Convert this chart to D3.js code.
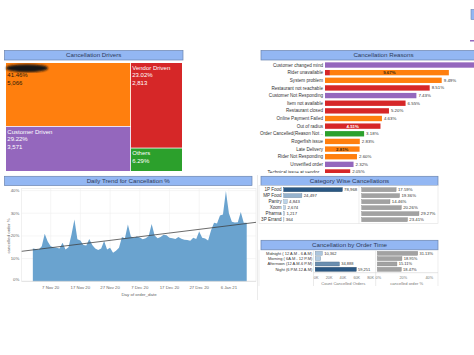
<!DOCTYPE html>
<html><head><meta charset="utf-8">
<script src="https://cdn.jsdelivr.net/npm/d3@7"></script>
<style>
html,body{margin:0;padding:0;background:#fff;}
svg{display:block;font-family:"Liberation Sans",Arial,sans-serif;}
</style></head><body>
<svg id="c" width="474" height="355"></svg>
<script>
// ---------------- DATA ----------------
const driverNames = ["", "Customer Driven", "Vendor Driven", "Others"]; // first label is redacted in the source
const driverPct = [41.46, 29.22, 23.02, 6.29];
const driverCount = [5066, 3571, 2813, null];
const driverColumn = [0, 0, 1, 1];
const driverColors = ["#ff7f0e", "#9467bd", "#d62728", "#2ca02c"];
const driverText = ["#2a1a0a", "#ffffff", "#ffffff", "#ffffff"];

const reasonNames = ["Customer changed mind","Rider unavailable","System problem","Restaurant not reachable",
  "Customer Not Responding","Item not available","Restaurant closed","Online Payment Failed","Out of radius",
  "Order Cancelled(Reason Not ..","Rogerfish issue","Late Delivery","Rider Not Responding","Unverified order",
  "Technical issue at vendor .."];
const reasonPct = [12.9, 9.67, 9.49, 8.51, 7.43, 6.55, 5.20, 4.63, 4.51, 3.18, 2.83, 2.81, 2.60, 2.32, 2.05];
const reasonDriver = [1, 0, 0, 2, 1, 2, 2, 0, 2, 3, 0, 0, 0, 1, 2];
const reasonLead = [0, 0.4, 0, 0, 0, 0, 0, 0, 0, 0, 0, 0, 0, 0, 0]; // small red lead segment
const reasonInside = [false, true, false, false, false, false, false, false, true, false, false, true, false, false, false];

const categories = ["1P Food","MP Food","Pantry","Xoom","Pharma","3P Errand"];
const catCount = [78968, 24497, 4843, 2674, 1217, 364];
const catPct = [17.59, 19.36, 14.46, 20.26, 29.27, 23.41];

const slots = ["Midnight ( 12 A.M - 6 A.M)","Morning ( 6A.M - 12 P.M)","Afternoon (12 A.M-6 P.M)","Night (6 P.M-12 A.M)"];
const slotCount = [10362, 8062, 34888, 59251];
const slotShowCount = [true, false, true, true];
const slotPct = [31.13, 18.95, 15.11, 18.47];
const countTicks = [0, 20000, 40000, 60000, 80000];
const slotPctTicks = [0, 20, 40];

const dailyStart = "2020-11-01";
const dailyPct = [14.5,14.2,14.0,15.5,21.0,17.5,15.5,15.0,14.8,14.5,17.0,14.0,15.0,20.5,27.3,18.5,18.0,16.0,15.8,18.7,
  16.0,14.5,13.8,14.5,17.8,14.0,14.8,12.6,13.5,14.8,19.5,19.0,25.0,19.8,19.2,19.8,19.3,18.5,19.0,20.0,
  25.3,20.2,19.0,19.5,20.5,20.3,19.2,19.0,18.6,19.5,18.8,18.3,18.2,17.9,19.2,18.6,22.0,19.2,18.9,18.0,
  22.5,25.8,25.5,29.0,29.5,39.8,30.0,26.3,25.9,26.0,30.5,25.8,25.8];
const dateTicks = ["2020-11-07","2020-11-17","2020-11-27","2020-12-07","2020-12-17","2020-12-27","2021-01-06"];
const yTicks = [0, 10, 20, 30, 40];

// ---------------- HELPERS ----------------
const svg = d3.select("#c");
const FONT = "'Liberation Sans',Arial,sans-serif";
function titleBar(x0, x1, y0, y1, text) {
  svg.append("rect").attr("x", x0).attr("y", y0).attr("width", x1 - x0).attr("height", y1 - y0)
    .attr("fill", "#93b7f3").attr("stroke", "#6a84b0").attr("stroke-width", 0.7);
  svg.append("text").attr("x", (x0 + x1) / 2).attr("y", (y0 + y1) / 2 + 2.1).attr("text-anchor", "middle")
    .attr("font-size", 6.2).attr("fill", "#2e3a59").text(text);
}
const defs = svg.append("defs");
defs.append("filter").attr("id", "blur").append("feGaussianBlur").attr("stdDeviation", 0.9);
defs.append("clipPath").attr("id", "rclip").append("rect").attr("x", 255).attr("y", 61).attr("width", 219).attr("height", 112);

// off-screen fragments at the top-right edge
svg.append("rect").attr("x", 471).attr("y", 9.5).attr("width", 4).attr("height", 10).attr("fill", "#93b7f3").attr("stroke", "#6a84b0").attr("stroke-width", 0.6);
svg.append("rect").attr("x", 470).attr("y", 40).attr("width", 5).attr("height", 1.5).attr("fill", "#9467bd");

// ---------------- TREEMAP ----------------
titleBar(4.5, 183, 50.5, 60, "Cancellation Drivers");
const tmData = { children: [0, 1].map(c => ({ children: driverPct.map((p, i) => ({ i, pct: p })).filter(d => driverColumn[d.i] === c) })) };
const root = d3.hierarchy(tmData).sum(d => d.pct || 0);
d3.treemap().tile(d3.treemapSliceDice).size([176, 108]).paddingInner(0.8)(root);
const tg = svg.append("g").attr("transform", "translate(6,63)");
root.leaves().forEach(l => {
  const i = l.data.i;
  tg.append("rect").attr("x", l.x0).attr("y", l.y0).attr("width", l.x1 - l.x0).attr("height", l.y1 - l.y0).attr("fill", driverColors[i]);
  const lines = [driverNames[i], driverPct[i].toFixed(2) + "%"];
  if (driverCount[i] != null) lines.push(d3.format(",")(driverCount[i]));
  lines.forEach((t, k) => {
    if (!t) return;
    tg.append("text").attr("x", l.x0 + 1.3).attr("y", l.y0 + 7 + k * 7.4).attr("font-size", 6)
      .attr("fill", driverText[i]).text(t);
  });
});
// redaction blot over the first label
tg.append("ellipse").attr("cx", 21).attr("cy", 5.2).attr("rx", 21).ry = null;
tg.select("ellipse").attr("ry", 4).attr("fill", "#141414").attr("filter", "url(#blur)");

// ---------------- REASONS ----------------
titleBar(261, 506, 50.5, 60, "Cancellation Reasons");
const rg = svg.append("g").attr("clip-path", "url(#rclip)");
const ry = d3.scaleBand().domain(reasonNames).range([61.2, 61.2 + 7.64 * reasonNames.length]).paddingInner(0.3).paddingOuter(0.15);
const rx = d3.scaleLinear().domain([0, 10]).range([325, 448]);
reasonNames.forEach((n, i) => {
  const y = ry(n), h = ry.bandwidth(), cy = y + h / 2;
  rg.append("text").attr("x", 323).attr("y", cy + 1.6).attr("text-anchor", "end").attr("font-size", 4.6).attr("fill", "#333").text(n);
  if (reasonLead[i] > 0) rg.append("rect").attr("x", rx(0)).attr("y", y).attr("width", rx(reasonLead[i]) - rx(0)).attr("height", h).attr("fill", driverColors[2]);
  const xs = rx(reasonLead[i]), xe = rx(reasonLead[i] + reasonPct[i]);
  rg.append("rect").attr("x", xs).attr("y", y).attr("width", xe - xs).attr("height", h).attr("fill", driverColors[reasonDriver[i]]);
  const lab = reasonPct[i].toFixed(2) + "%";
  if (reasonInside[i]) {
    rg.append("text").attr("x", (xs + xe) / 2).attr("y", cy + 1.5).attr("text-anchor", "middle").attr("font-size", 4.4)
      .attr("font-weight", "bold").attr("fill", reasonDriver[i] === 2 ? "#fff" : "#3a2a10").text(lab);
  } else if (i > 0) {
    rg.append("text").attr("x", xe + 2).attr("y", cy + 1.5).attr("font-size", 4.4).attr("fill", "#333").text(lab);
  }
});

// ---------------- DAILY TREND ----------------
titleBar(4.5, 252, 176.3, 185.5, "Daily Trend for Cancellation %");
const parse = d3.timeParse("%Y-%m-%d");
const t0 = parse(dailyStart);
const daily = dailyPct.map((v, i) => ({ date: d3.timeDay.offset(t0, i), v }));
const tx = d3.scaleTime().domain([new Date(2020, 9, 28, 6), new Date(2021, 0, 15, 3)]).range([21.7, 256]);
const ty = d3.scaleLinear().domain([0, 41]).range([281.3, 188.3]);
const pg = svg.append("g");
// frame & grid
pg.append("rect").attr("x", 21.7).attr("y", 188.3).attr("width", 256 - 21.7).attr("height", 281.3 - 188.3)
  .attr("fill", "none").attr("stroke", "#e6e6e6").attr("stroke-width", 0.6);
yTicks.forEach(t => pg.append("line").attr("x1", 21.7).attr("x2", 256).attr("y1", ty(t)).attr("y2", ty(t)).attr("stroke", "#efefef").attr("stroke-width", 0.6));
dateTicks.map(parse).forEach(d => pg.append("line").attr("x1", tx(d)).attr("x2", tx(d)).attr("y1", 188.3).attr("y2", 281.3).attr("stroke", "#f0f0f0").attr("stroke-width", 0.6));
// area
const area = d3.area().x(d => tx(d.date)).y0(ty(0)).y1(d => ty(d.v));
pg.append("path").datum(daily).attr("d", area).attr("fill", "#6aa3cf");
// trend line (least squares)
const n = daily.length, xsArr = daily.map(d => +d.date), mx = d3.mean(xsArr), my = d3.mean(dailyPct);
const slope = d3.sum(daily, d => (+d.date - mx) * (d.v - my)) / d3.sum(daily, d => (+d.date - mx) ** 2);
const icpt = my - slope * mx;
const dom = tx.domain();
pg.append("line").attr("x1", tx(dom[0])).attr("x2", tx(dom[1]))
  .attr("y1", ty(icpt + slope * +dom[0])).attr("y2", ty(icpt + slope * +dom[1]))
  .attr("stroke", "#3d3d3d").attr("stroke-opacity", 0.85).attr("stroke-width", 0.9);
pg.append("line").attr("x1", 21.7).attr("x2", 256).attr("y1", ty(0)).attr("y2", ty(0)).attr("stroke", "#d8d8d8").attr("stroke-width", 0.6);
// axes
yTicks.forEach(t => pg.append("text").attr("x", 19.3).attr("y", ty(t) + (t === 0 ? -0.5 : 1.5)).attr("text-anchor", "end")
  .attr("font-size", 4.3).attr("fill", "#666").text(t + "%"));
const fmt = d3.timeFormat("%-d %b %y");
dateTicks.map(parse).forEach(d => pg.append("text").attr("x", tx(d)).attr("y", 288.5).attr("text-anchor", "middle")
  .attr("font-size", 4.3).attr("fill", "#666").text(fmt(d)));
pg.append("text").attr("x", 139).attr("y", 295.5).attr("text-anchor", "middle").attr("font-size", 4.4).attr("fill", "#666").text("Day of order_date");
pg.append("text").attr("transform", "translate(9.5,236) rotate(-90)").attr("text-anchor", "middle").attr("font-size", 4.4).attr("fill", "#666").text("cancelled order %");
svg.append("line").attr("x1", 257.5).attr("x2", 257.5).attr("y1", 175).attr("y2", 300).attr("stroke", "#e2e2e2").attr("stroke-width", 0.7);

// ---------------- CATEGORY WISE ----------------
titleBar(261, 438, 176.3, 185.5, "Category Wise Cancellations");
const cg = svg.append("g");
cg.append("rect").attr("x", 259).attr("y", 185.5).attr("width", 179).attr("height", 38).attr("fill", "none").attr("stroke", "#e2e2e2").attr("stroke-width", 0.6);
cg.append("line").attr("x1", 359).attr("x2", 359).attr("y1", 186).attr("y2", 223.5).attr("stroke", "#e2e2e2").attr("stroke-width", 0.6);
const cy = d3.scaleBand().domain(categories).range([186.7, 186.7 + 6 * categories.length]).paddingInner(0.33).paddingOuter(0.165);
const cx = d3.scaleLinear().domain([0, 85000]).range([283.7, 346.8]);
const cpx = d3.scaleLinear().domain([0, 30]).range([361.7, 420.4]);
const ccol = d3.scaleLinear().domain([0, d3.max(catCount)]).range(["#c6dcf0", "#2a5783"]);
categories.forEach((c, i) => {
  const y = cy(c), h = cy.bandwidth(), m = y + h / 2;
  cg.append("text").attr("x", 281.7).attr("y", m + 1.6).attr("text-anchor", "end").attr("font-size", 4.6).attr("fill", "#333").text(c);
  cg.append("rect").attr("x", cx(0)).attr("y", y).attr("width", cx(catCount[i]) - cx(0)).attr("height", h)
    .attr("fill", ccol(catCount[i])).attr("stroke", d3.color(ccol(catCount[i])).darker(0.8)).attr("stroke-width", 0.4);
  cg.append("text").attr("x", cx(catCount[i]) + 1.8).attr("y", m + 1.5).attr("font-size", 4.3).attr("fill", "#333").text(d3.format(",")(catCount[i]));
  cg.append("rect").attr("x", cpx(0)).attr("y", y).attr("width", cpx(catPct[i]) - cpx(0)).attr("height", h)
    .attr("fill", "#a2a2a2").attr("stroke", "#8a8a8a").attr("stroke-width", 0.4);
  cg.append("text").attr("x", cpx(catPct[i]) + 1.8).attr("y", m + 1.5).attr("font-size", 4.3).attr("fill", "#333").text(catPct[i].toFixed(2) + "%");
});

// ---------------- ORDER TIME ----------------
titleBar(261, 438, 240.3, 249.8, "Cancellation by Order Time");
const og = svg.append("g");
og.append("line").attr("x1", 259).attr("x2", 259).attr("y1", 249.8).attr("y2", 286).attr("stroke", "#e2e2e2").attr("stroke-width", 0.6);
og.append("line").attr("x1", 438).attr("x2", 438).attr("y1", 249.8).attr("y2", 286).attr("stroke", "#e2e2e2").attr("stroke-width", 0.6);
og.append("line").attr("x1", 313.5).attr("x2", 313.5).attr("y1", 250.5).attr("y2", 286).attr("stroke", "#dcdcdc").attr("stroke-width", 0.6);
og.append("line").attr("x1", 375.7).attr("x2", 375.7).attr("y1", 250.5).attr("y2", 286).attr("stroke", "#dcdcdc").attr("stroke-width", 0.6);
og.append("line").attr("x1", 313.5).attr("x2", 438).attr("y1", 272.7).attr("y2", 272.7).attr("stroke", "#d4d4d4").attr("stroke-width", 0.6);
const oy = d3.scaleBand().domain(slots).range([250.65, 250.65 + 5.33 * slots.length]).paddingInner(0.25).paddingOuter(0.125);
const ox = d3.scaleLinear().domain([0, 86000]).range([315.2, 374.8]);
const opx = d3.scaleLinear().domain([0, 47]).range([377.3, 438.4]);
const ocol = d3.scaleLinear().domain([0, d3.max(slotCount)]).range(["#c6dcf0", "#2a5783"]);
slots.forEach((s, i) => {
  const y = oy(s), h = oy.bandwidth(), m = y + h / 2;
  og.append("text").attr("x", 312.3).attr("y", m + 1.4).attr("text-anchor", "end").attr("font-size", 4.0).attr("fill", "#333").text(s);
  og.append("rect").attr("x", ox(0)).attr("y", y).attr("width", ox(slotCount[i]) - ox(0)).attr("height", h)
    .attr("fill", ocol(slotCount[i])).attr("stroke", d3.color(ocol(slotCount[i])).darker(0.8)).attr("stroke-width", 0.4);
  if (slotShowCount[i]) og.append("text").attr("x", ox(slotCount[i]) + 1.8).attr("y", m + 1.4).attr("font-size", 4.0).attr("fill", "#333").text(d3.format(",")(slotCount[i]));
  og.append("rect").attr("x", opx(0)).attr("y", y).attr("width", opx(slotPct[i]) - opx(0)).attr("height", h)
    .attr("fill", "#a2a2a2").attr("stroke", "#8a8a8a").attr("stroke-width", 0.4);
  og.append("text").attr("x", opx(slotPct[i]) + 1.8).attr("y", m + 1.4).attr("font-size", 4.0).attr("fill", "#333").text(slotPct[i].toFixed(2) + "%");
});
countTicks.forEach(t => og.append("text").attr("x", ox(t) + (t === 0 ? 1 : 0)).attr("y", 278.6).attr("text-anchor", "middle")
  .attr("font-size", 3.8).attr("fill", "#777").text(d3.format("~s")(t).replace("k", "K").replace(/^0$/, "0K")));
slotPctTicks.forEach(t => og.append("text").attr("x", opx(t) + (t === 0 ? 1 : 0)).attr("y", 278.6).attr("text-anchor", "middle")
  .attr("font-size", 3.8).attr("fill", "#777").text(t + "%"));
og.append("text").attr("x", 343.3).attr("y", 284.6).attr("text-anchor", "middle").attr("font-size", 4.1).attr("fill", "#777").text("Count Cancelled Orders");
og.append("text").attr("x", 406.7).attr("y", 284.6).attr("text-anchor", "middle").attr("font-size", 4.1).attr("fill", "#777").text("cancelled order %");
</script>
</body></html>
